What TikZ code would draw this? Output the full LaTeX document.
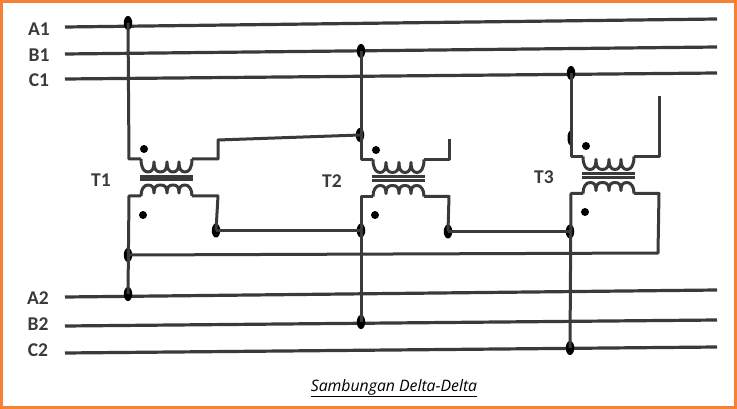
\documentclass[tikz,border=0pt]{standalone}
\usepackage{fontspec}
\setmainfont{Carlito}
\newfontfamily\capfont{Open Sans}
\usepackage{xcolor}
\usetikzlibrary{shapes.geometric}
\definecolor{wirecol}{HTML}{3A3A3A}
\definecolor{framecol}{HTML}{F58233}
\tikzset{
  wire/.style={draw=wirecol, line width=3pt, line join=round},
  busbar/.style={draw=wirecol, line width=3.2pt},
  joint/.style={draw=none, fill=black, ellipse, inner sep=0pt, minimum width=8.5pt, minimum height=14pt},
  pole/.style={draw=none, fill=black, circle, inner sep=0pt, minimum size=8pt},
  phase/.style={font=\bfseries\fontsize{19.5}{21}\selectfont, text=wirecol, inner sep=0pt},
  pics/xfmr/.style={code={
    % primary
    \draw[wire] (0,0) coordinate (-p1)
      .. controls (0,9) and (3,13) .. (7,13) .. controls (11,13) and (13,10) .. (13,3)
      .. controls (13,10) and (15,13) .. (19.5,13) .. controls (24,13) and (26,10) .. (26,3)
      .. controls (26,10) and (28,13) .. (32,13) .. controls (36,13) and (38,10) .. (38,3)
      .. controls (38,10) and (40,13) .. (44,13) .. controls (48,13) and (51,9) .. (51,0) coordinate (-p2);
    % core
    \draw[wirecol, line width=3pt] (-1,17.5) -- (52,17.5);
    \draw[wirecol, line width=3pt] (-1,21) -- (52,21);
    % secondary
    \draw[wire] (0,37) coordinate (-s1)
      .. controls (0,30) and (3,26) .. (7,26) .. controls (11,26) and (13,28) .. (13,34)
      .. controls (13,28) and (15,26) .. (19.5,26) .. controls (24,26) and (26,28) .. (26,34)
      .. controls (26,28) and (28,26) .. (32,26) .. controls (36,26) and (38,28) .. (38,34)
      .. controls (38,28) and (40,26) .. (44,26) .. controls (48,26) and (51,30) .. (51,37) coordinate (-s2);
  }}
}
\begin{document}
\begin{tikzpicture}[x=1pt,y=-1pt]
  \useasboundingbox (0,0) rectangle (737,409);
  \draw[framecol, line width=3pt] (1.5,1.5) rectangle (735.5,407.5);

  % phase lines
  \node[phase] (A1) at (39,29) {A1};
  \node[phase] (B1) at (39,55) {B1};
  \node[phase] (C1) at (39,80) {C1};
  \node[phase] (A2) at (38,298) {A2};
  \node[phase] (B2) at (38,324) {B2};
  \node[phase] (C2) at (38,350) {C2};
  \coordinate (A1e) at (717,19);
  \coordinate (B1e) at (717,47);
  \coordinate (C1e) at (717,73);
  \coordinate (A2e) at (717,290);
  \coordinate (B2e) at (717,320);
  \coordinate (C2e) at (717,347);
  \draw[busbar] (65,27) -- (A1e);
  \draw[busbar] (65,54) -- (B1e);
  \draw[busbar] (65,79) -- (C1e);
  \draw[busbar] (65,297) -- (A2e);
  \draw[busbar] (65,326) -- (B2e);
  \draw[busbar] (65,353) -- (C2e);

  % transformers
  \pic (T1) at (141,159) {xfmr};
  \pic (T2) at (373,159.5) {xfmr};
  \pic (T3) at (583,156.5) {xfmr};
  \node[phase] (T1l) at (101,180) {T1};
  \node[phase] (T2l) at (332,181) {T2};
  \node[phase] (T3l) at (544,177) {T3};

  % joints
  \node[joint] (ja1) at (128,23) {};
  \node[joint] (jb1) at (361,51) {};
  \node[joint] (jc1) at (571,73) {};
  \node[joint] (jt2) at (360,135) {};
  \node[joint, minimum width=5pt] (jt3) at (570,138) {};
  \node[joint] (jd1) at (216,230.5) {};
  \node[joint] (jd2) at (361,230.5) {};
  \node[joint] (jd3) at (448,231.5) {};
  \node[joint] (jd4) at (570,231.5) {};
  \node[joint] (jn) at (128,255) {};
  \node[joint] (ja2) at (128,294) {};
  \node[joint] (jb2) at (361,322) {};
  \node[joint] (jc2) at (570,348) {};

  % T1 leads
  \coordinate (t1a) at (129,159);
  \coordinate (t1b) at (218,159);
  \coordinate (t1c) at (218,140);
  \coordinate (t1d) at (129,196);
  \coordinate (t1e) at (218,196);
  \draw[wire] (ja1.center) -- (t1a) -- (T1-p1);
  \draw[wire] (T1-p2) -- (t1b) -- (t1c) -- (jt2.center);
  \draw[wire] (T1-s1) -- (t1d) -- (ja2.center);
  \draw[wire] (T1-s2) -- (t1e) -- (jd1.center);

  % T2 leads
  \coordinate (t2a) at (361,159.5);
  \coordinate (t2b) at (449,159.5);
  \coordinate (t2c) at (449,139);
  \coordinate (t2d) at (361,196.5);
  \coordinate (t2e) at (449,196.5);
  \draw[wire] (jb1.center) -- (t2a) -- (T2-p1);
  \draw[wire] (T2-p2) -- (t2b) -- (t2c);
  \draw[wire] (T2-s1) -- (t2d) -- (jb2.center);
  \draw[wire] (T2-s2) -- (t2e) -- (jd3.center);

  % T3 leads
  \coordinate (t3a) at (571,156.5);
  \coordinate (t3b) at (659,156.5);
  \coordinate (t3c) at (659,96);
  \coordinate (t3d) at (571,193.5);
  \coordinate (t3e) at (659,193.5);
  \coordinate (t3f) at (658,253);
  \draw[wire] (jc1.center) -- (t3a) -- (T3-p1);
  \draw[wire] (T3-p2) -- (t3b) -- (t3c);
  \draw[wire] (T3-s1) -- (t3d) -- (jc2.center);
  \draw[wire] (T3-s2) -- (t3e) -- (t3f) -- (jn.center);

  % delta links
  \draw[wire] (jd1.center) -- (jd2.center);
  \draw[wire] (jd3.center) -- (jd4.center);

  % polarity dots
  \node[pole] (d1) at (144,149) {};
  \node[pole] (d2) at (143,215) {};
  \node[pole] (d3) at (376,150) {};
  \node[pole] (d4) at (375,215) {};
  \node[pole] (d5) at (586,146) {};
  \node[pole] (d6) at (585,212) {};

  \node[font=\capfont\itshape\fontsize{15.8}{17}\selectfont, inner sep=0pt] (cap) at (394,388) {\underline{Sambungan Delta-Delta}};
\end{tikzpicture}
\end{document}
